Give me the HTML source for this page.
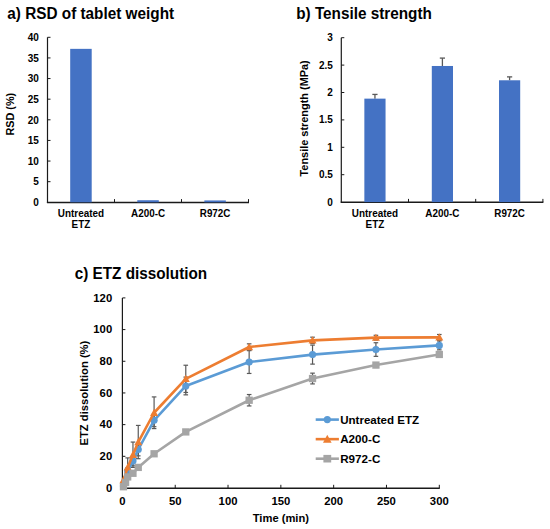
<!DOCTYPE html>
<html><head><meta charset="utf-8"><style>
html,body{margin:0;padding:0;background:#fff;}
svg{display:block;}
text{font-family:"Liberation Sans", sans-serif;font-weight:bold;fill:#000;}
</style></head><body>
<svg width="550" height="529" viewBox="0 0 550 529">
<text x="7.30" y="18.80" font-size="15.8" text-anchor="start" textLength="166.80" lengthAdjust="spacingAndGlyphs" >a) RSD of tablet weight</text>
<text x="296.20" y="18.80" font-size="15.8" text-anchor="start" textLength="135.70" lengthAdjust="spacingAndGlyphs" >b) Tensile strength</text>
<text x="74.70" y="278.90" font-size="15.8" text-anchor="start" textLength="132.50" lengthAdjust="spacingAndGlyphs" >c) ETZ dissolution</text>
<line x1="47.50" y1="37.30" x2="47.50" y2="202.80" stroke="#1a1a1a" stroke-width="1.2" />
<line x1="46.90" y1="202.50" x2="249.00" y2="202.50" stroke="#1a1a1a" stroke-width="1.5" />
<text x="38.80" y="206.00" font-size="10" text-anchor="end" >0</text>
<line x1="47.50" y1="181.68" x2="50.50" y2="181.68" stroke="#1a1a1a" stroke-width="1.0" />
<text x="38.80" y="185.38" font-size="10" text-anchor="end" >5</text>
<line x1="47.50" y1="161.05" x2="50.50" y2="161.05" stroke="#1a1a1a" stroke-width="1.0" />
<text x="38.80" y="164.75" font-size="10" text-anchor="end" >10</text>
<line x1="47.50" y1="140.43" x2="50.50" y2="140.43" stroke="#1a1a1a" stroke-width="1.0" />
<text x="38.80" y="144.12" font-size="10" text-anchor="end" >15</text>
<line x1="47.50" y1="119.80" x2="50.50" y2="119.80" stroke="#1a1a1a" stroke-width="1.0" />
<text x="38.80" y="123.50" font-size="10" text-anchor="end" >20</text>
<line x1="47.50" y1="99.18" x2="50.50" y2="99.18" stroke="#1a1a1a" stroke-width="1.0" />
<text x="38.80" y="102.88" font-size="10" text-anchor="end" >25</text>
<line x1="47.50" y1="78.55" x2="50.50" y2="78.55" stroke="#1a1a1a" stroke-width="1.0" />
<text x="38.80" y="82.25" font-size="10" text-anchor="end" >30</text>
<line x1="47.50" y1="57.93" x2="50.50" y2="57.93" stroke="#1a1a1a" stroke-width="1.0" />
<text x="38.80" y="61.63" font-size="10" text-anchor="end" >35</text>
<line x1="47.50" y1="37.30" x2="50.50" y2="37.30" stroke="#1a1a1a" stroke-width="1.0" />
<text x="38.80" y="41.00" font-size="10" text-anchor="end" >40</text>
<line x1="114.50" y1="202.30" x2="114.50" y2="199.10" stroke="#1a1a1a" stroke-width="1.0" />
<line x1="181.50" y1="202.30" x2="181.50" y2="199.10" stroke="#1a1a1a" stroke-width="1.0" />
<line x1="248.50" y1="202.30" x2="248.50" y2="199.10" stroke="#1a1a1a" stroke-width="1.0" />
<rect x="70.20" y="48.85" width="21.50" height="153.45" fill="#4472C4"/>
<rect x="137.30" y="200.24" width="21.50" height="2.06" fill="#4472C4"/>
<rect x="204.35" y="200.44" width="21.50" height="1.86" fill="#4472C4"/>
<text x="80.95" y="216.80" font-size="10.3" text-anchor="middle" textLength="46.20" lengthAdjust="spacingAndGlyphs" >Untreated</text>
<text x="80.95" y="228.00" font-size="10.3" text-anchor="middle" textLength="18.80" lengthAdjust="spacingAndGlyphs" >ETZ</text>
<text x="148.05" y="216.80" font-size="10.3" text-anchor="middle" textLength="34.10" lengthAdjust="spacingAndGlyphs" >A200-C</text>
<text x="215.10" y="216.80" font-size="10.3" text-anchor="middle" textLength="30.60" lengthAdjust="spacingAndGlyphs" >R972C</text>
<text x="0.00" y="0.00" font-size="11" text-anchor="middle" textLength="42.80" lengthAdjust="spacingAndGlyphs" transform="translate(14.3,114.2) rotate(-90)">RSD (%)</text>
<line x1="341.30" y1="37.70" x2="341.30" y2="202.60" stroke="#1a1a1a" stroke-width="1.2" />
<line x1="340.70" y1="202.30" x2="543.40" y2="202.30" stroke="#1a1a1a" stroke-width="1.5" />
<text x="332.80" y="205.60" font-size="10" text-anchor="end" >0</text>
<line x1="341.30" y1="174.70" x2="344.30" y2="174.70" stroke="#1a1a1a" stroke-width="1.0" />
<text x="332.80" y="178.20" font-size="10" text-anchor="end" >0.5</text>
<line x1="341.30" y1="147.30" x2="344.30" y2="147.30" stroke="#1a1a1a" stroke-width="1.0" />
<text x="332.80" y="150.80" font-size="10" text-anchor="end" >1</text>
<line x1="341.30" y1="119.90" x2="344.30" y2="119.90" stroke="#1a1a1a" stroke-width="1.0" />
<text x="332.80" y="123.40" font-size="10" text-anchor="end" >1.5</text>
<line x1="341.30" y1="92.50" x2="344.30" y2="92.50" stroke="#1a1a1a" stroke-width="1.0" />
<text x="332.80" y="96.00" font-size="10" text-anchor="end" >2</text>
<line x1="341.30" y1="65.10" x2="344.30" y2="65.10" stroke="#1a1a1a" stroke-width="1.0" />
<text x="332.80" y="68.60" font-size="10" text-anchor="end" >2.5</text>
<line x1="341.30" y1="37.70" x2="344.30" y2="37.70" stroke="#1a1a1a" stroke-width="1.0" />
<text x="332.80" y="41.20" font-size="10" text-anchor="end" >3</text>
<line x1="408.50" y1="202.10" x2="408.50" y2="198.90" stroke="#1a1a1a" stroke-width="1.0" />
<line x1="475.70" y1="202.10" x2="475.70" y2="198.90" stroke="#1a1a1a" stroke-width="1.0" />
<line x1="542.90" y1="202.10" x2="542.90" y2="198.90" stroke="#1a1a1a" stroke-width="1.0" />
<line x1="374.95" y1="98.64" x2="374.95" y2="94.42" stroke="#595959" stroke-width="1.3" />
<line x1="372.35" y1="94.42" x2="377.55" y2="94.42" stroke="#595959" stroke-width="1.3" />
<rect x="364.35" y="98.64" width="21.20" height="103.46" fill="#4472C4"/>
<line x1="442.40" y1="65.98" x2="442.40" y2="58.09" stroke="#595959" stroke-width="1.3" />
<line x1="439.80" y1="58.09" x2="445.00" y2="58.09" stroke="#595959" stroke-width="1.3" />
<rect x="431.80" y="65.98" width="21.20" height="136.12" fill="#4472C4"/>
<line x1="509.60" y1="80.28" x2="509.60" y2="76.88" stroke="#595959" stroke-width="1.3" />
<line x1="507.00" y1="76.88" x2="512.20" y2="76.88" stroke="#595959" stroke-width="1.3" />
<rect x="499.00" y="80.28" width="21.20" height="121.82" fill="#4472C4"/>
<text x="374.95" y="216.80" font-size="10.3" text-anchor="middle" textLength="46.20" lengthAdjust="spacingAndGlyphs" >Untreated</text>
<text x="374.95" y="228.00" font-size="10.3" text-anchor="middle" textLength="18.80" lengthAdjust="spacingAndGlyphs" >ETZ</text>
<text x="442.40" y="216.80" font-size="10.3" text-anchor="middle" textLength="34.10" lengthAdjust="spacingAndGlyphs" >A200-C</text>
<text x="509.60" y="216.80" font-size="10.3" text-anchor="middle" textLength="30.60" lengthAdjust="spacingAndGlyphs" >R972C</text>
<text x="0.00" y="0.00" font-size="11" text-anchor="middle" textLength="116.20" lengthAdjust="spacingAndGlyphs" transform="translate(308.1,118.4) rotate(-90)">Tensile strength (MPa)</text>
<line x1="122.40" y1="297.90" x2="122.40" y2="488.50" stroke="#1a1a1a" stroke-width="1.2" />
<line x1="121.80" y1="488.20" x2="439.80" y2="488.20" stroke="#1a1a1a" stroke-width="1.5" />
<text x="112.20" y="491.80" font-size="11.3" text-anchor="end" >0</text>
<line x1="122.40" y1="456.32" x2="125.40" y2="456.32" stroke="#1a1a1a" stroke-width="1.0" />
<text x="112.20" y="460.12" font-size="11.3" text-anchor="end" >20</text>
<line x1="122.40" y1="424.63" x2="125.40" y2="424.63" stroke="#1a1a1a" stroke-width="1.0" />
<text x="112.20" y="428.43" font-size="11.3" text-anchor="end" >40</text>
<line x1="122.40" y1="392.95" x2="125.40" y2="392.95" stroke="#1a1a1a" stroke-width="1.0" />
<text x="112.20" y="396.75" font-size="11.3" text-anchor="end" >60</text>
<line x1="122.40" y1="361.27" x2="125.40" y2="361.27" stroke="#1a1a1a" stroke-width="1.0" />
<text x="112.20" y="365.07" font-size="11.3" text-anchor="end" >80</text>
<line x1="122.40" y1="329.58" x2="125.40" y2="329.58" stroke="#1a1a1a" stroke-width="1.0" />
<text x="112.20" y="333.38" font-size="11.3" text-anchor="end" >100</text>
<line x1="122.40" y1="297.90" x2="125.40" y2="297.90" stroke="#1a1a1a" stroke-width="1.0" />
<text x="112.20" y="301.70" font-size="11.3" text-anchor="end" >120</text>
<text x="122.40" y="505.00" font-size="11.3" text-anchor="middle" >0</text>
<line x1="175.22" y1="488.00" x2="175.22" y2="484.80" stroke="#1a1a1a" stroke-width="1.0" />
<text x="175.22" y="505.00" font-size="11.3" text-anchor="middle" >50</text>
<line x1="228.03" y1="488.00" x2="228.03" y2="484.80" stroke="#1a1a1a" stroke-width="1.0" />
<text x="228.03" y="505.00" font-size="11.3" text-anchor="middle" >100</text>
<line x1="280.85" y1="488.00" x2="280.85" y2="484.80" stroke="#1a1a1a" stroke-width="1.0" />
<text x="280.85" y="505.00" font-size="11.3" text-anchor="middle" >150</text>
<line x1="333.67" y1="488.00" x2="333.67" y2="484.80" stroke="#1a1a1a" stroke-width="1.0" />
<text x="333.67" y="505.00" font-size="11.3" text-anchor="middle" >200</text>
<line x1="386.48" y1="488.00" x2="386.48" y2="484.80" stroke="#1a1a1a" stroke-width="1.0" />
<text x="386.48" y="505.00" font-size="11.3" text-anchor="middle" >250</text>
<line x1="439.30" y1="488.00" x2="439.30" y2="484.80" stroke="#1a1a1a" stroke-width="1.0" />
<text x="439.30" y="505.00" font-size="11.3" text-anchor="middle" >300</text>
<text x="280.85" y="522.00" font-size="11.6" text-anchor="middle" textLength="56.20" lengthAdjust="spacingAndGlyphs" >Time (min)</text>
<text x="0.00" y="0.00" font-size="11.5" text-anchor="middle" textLength="104.90" lengthAdjust="spacingAndGlyphs" transform="translate(87.6,393.1) rotate(-90)">ETZ dissolution (%)</text>
<line x1="125.57" y1="481.66" x2="125.57" y2="483.25" stroke="#595959" stroke-width="1.2" />
<line x1="123.27" y1="481.66" x2="127.87" y2="481.66" stroke="#595959" stroke-width="1.2" />
<line x1="123.27" y1="483.25" x2="127.87" y2="483.25" stroke="#595959" stroke-width="1.2" />
<line x1="127.68" y1="476.12" x2="127.68" y2="477.70" stroke="#595959" stroke-width="1.2" />
<line x1="125.38" y1="476.12" x2="129.98" y2="476.12" stroke="#595959" stroke-width="1.2" />
<line x1="125.38" y1="477.70" x2="129.98" y2="477.70" stroke="#595959" stroke-width="1.2" />
<line x1="132.96" y1="471.68" x2="132.96" y2="474.85" stroke="#595959" stroke-width="1.2" />
<line x1="130.66" y1="471.68" x2="135.26" y2="471.68" stroke="#595959" stroke-width="1.2" />
<line x1="130.66" y1="474.85" x2="135.26" y2="474.85" stroke="#595959" stroke-width="1.2" />
<line x1="138.25" y1="465.82" x2="138.25" y2="468.99" stroke="#595959" stroke-width="1.2" />
<line x1="135.94" y1="465.82" x2="140.55" y2="465.82" stroke="#595959" stroke-width="1.2" />
<line x1="135.94" y1="468.99" x2="140.55" y2="468.99" stroke="#595959" stroke-width="1.2" />
<line x1="154.09" y1="452.20" x2="154.09" y2="455.37" stroke="#595959" stroke-width="1.2" />
<line x1="151.79" y1="452.20" x2="156.39" y2="452.20" stroke="#595959" stroke-width="1.2" />
<line x1="151.79" y1="455.37" x2="156.39" y2="455.37" stroke="#595959" stroke-width="1.2" />
<line x1="185.78" y1="430.34" x2="185.78" y2="433.50" stroke="#595959" stroke-width="1.2" />
<line x1="183.48" y1="430.34" x2="188.08" y2="430.34" stroke="#595959" stroke-width="1.2" />
<line x1="183.48" y1="433.50" x2="188.08" y2="433.50" stroke="#595959" stroke-width="1.2" />
<line x1="249.16" y1="394.53" x2="249.16" y2="405.94" stroke="#595959" stroke-width="1.2" />
<line x1="246.86" y1="394.53" x2="251.46" y2="394.53" stroke="#595959" stroke-width="1.2" />
<line x1="246.86" y1="405.94" x2="251.46" y2="405.94" stroke="#595959" stroke-width="1.2" />
<line x1="312.54" y1="373.15" x2="312.54" y2="383.92" stroke="#595959" stroke-width="1.2" />
<line x1="310.24" y1="373.15" x2="314.84" y2="373.15" stroke="#595959" stroke-width="1.2" />
<line x1="310.24" y1="383.92" x2="314.84" y2="383.92" stroke="#595959" stroke-width="1.2" />
<line x1="375.92" y1="362.69" x2="375.92" y2="367.44" stroke="#595959" stroke-width="1.2" />
<line x1="373.62" y1="362.69" x2="378.22" y2="362.69" stroke="#595959" stroke-width="1.2" />
<line x1="373.62" y1="367.44" x2="378.22" y2="367.44" stroke="#595959" stroke-width="1.2" />
<line x1="439.30" y1="352.08" x2="439.30" y2="356.83" stroke="#595959" stroke-width="1.2" />
<line x1="437.00" y1="352.08" x2="441.60" y2="352.08" stroke="#595959" stroke-width="1.2" />
<line x1="437.00" y1="356.83" x2="441.60" y2="356.83" stroke="#595959" stroke-width="1.2" />
<line x1="127.68" y1="467.72" x2="127.68" y2="474.06" stroke="#595959" stroke-width="1.2" />
<line x1="125.38" y1="467.72" x2="129.98" y2="467.72" stroke="#595959" stroke-width="1.2" />
<line x1="125.38" y1="474.06" x2="129.98" y2="474.06" stroke="#595959" stroke-width="1.2" />
<line x1="132.96" y1="456.32" x2="132.96" y2="465.82" stroke="#595959" stroke-width="1.2" />
<line x1="130.66" y1="456.32" x2="135.26" y2="456.32" stroke="#595959" stroke-width="1.2" />
<line x1="130.66" y1="465.82" x2="135.26" y2="465.82" stroke="#595959" stroke-width="1.2" />
<line x1="138.25" y1="443.17" x2="138.25" y2="455.84" stroke="#595959" stroke-width="1.2" />
<line x1="135.94" y1="443.17" x2="140.55" y2="443.17" stroke="#595959" stroke-width="1.2" />
<line x1="135.94" y1="455.84" x2="140.55" y2="455.84" stroke="#595959" stroke-width="1.2" />
<line x1="154.09" y1="414.02" x2="154.09" y2="426.69" stroke="#595959" stroke-width="1.2" />
<line x1="151.79" y1="414.02" x2="156.39" y2="414.02" stroke="#595959" stroke-width="1.2" />
<line x1="151.79" y1="426.69" x2="156.39" y2="426.69" stroke="#595959" stroke-width="1.2" />
<line x1="185.78" y1="377.11" x2="185.78" y2="394.85" stroke="#595959" stroke-width="1.2" />
<line x1="183.48" y1="377.11" x2="188.08" y2="377.11" stroke="#595959" stroke-width="1.2" />
<line x1="183.48" y1="394.85" x2="188.08" y2="394.85" stroke="#595959" stroke-width="1.2" />
<line x1="249.16" y1="350.65" x2="249.16" y2="373.46" stroke="#595959" stroke-width="1.2" />
<line x1="246.86" y1="350.65" x2="251.46" y2="350.65" stroke="#595959" stroke-width="1.2" />
<line x1="246.86" y1="373.46" x2="251.46" y2="373.46" stroke="#595959" stroke-width="1.2" />
<line x1="312.54" y1="345.11" x2="312.54" y2="364.12" stroke="#595959" stroke-width="1.2" />
<line x1="310.24" y1="345.11" x2="314.84" y2="345.11" stroke="#595959" stroke-width="1.2" />
<line x1="310.24" y1="364.12" x2="314.84" y2="364.12" stroke="#595959" stroke-width="1.2" />
<line x1="375.92" y1="342.73" x2="375.92" y2="356.36" stroke="#595959" stroke-width="1.2" />
<line x1="373.62" y1="342.73" x2="378.22" y2="342.73" stroke="#595959" stroke-width="1.2" />
<line x1="373.62" y1="356.36" x2="378.22" y2="356.36" stroke="#595959" stroke-width="1.2" />
<line x1="439.30" y1="340.99" x2="439.30" y2="349.86" stroke="#595959" stroke-width="1.2" />
<line x1="437.00" y1="340.99" x2="441.60" y2="340.99" stroke="#595959" stroke-width="1.2" />
<line x1="437.00" y1="349.86" x2="441.60" y2="349.86" stroke="#595959" stroke-width="1.2" />
<line x1="127.68" y1="457.90" x2="127.68" y2="476.91" stroke="#595959" stroke-width="1.2" />
<line x1="125.38" y1="457.90" x2="129.98" y2="457.90" stroke="#595959" stroke-width="1.2" />
<line x1="125.38" y1="476.91" x2="129.98" y2="476.91" stroke="#595959" stroke-width="1.2" />
<line x1="132.96" y1="442.06" x2="132.96" y2="467.41" stroke="#595959" stroke-width="1.2" />
<line x1="130.66" y1="442.06" x2="135.26" y2="442.06" stroke="#595959" stroke-width="1.2" />
<line x1="130.66" y1="467.41" x2="135.26" y2="467.41" stroke="#595959" stroke-width="1.2" />
<line x1="138.25" y1="425.43" x2="138.25" y2="458.69" stroke="#595959" stroke-width="1.2" />
<line x1="135.94" y1="425.43" x2="140.55" y2="425.43" stroke="#595959" stroke-width="1.2" />
<line x1="135.94" y1="458.69" x2="140.55" y2="458.69" stroke="#595959" stroke-width="1.2" />
<line x1="154.09" y1="396.91" x2="154.09" y2="428.59" stroke="#595959" stroke-width="1.2" />
<line x1="151.79" y1="396.91" x2="156.39" y2="396.91" stroke="#595959" stroke-width="1.2" />
<line x1="151.79" y1="428.59" x2="156.39" y2="428.59" stroke="#595959" stroke-width="1.2" />
<line x1="185.78" y1="365.23" x2="185.78" y2="392.47" stroke="#595959" stroke-width="1.2" />
<line x1="183.48" y1="365.23" x2="188.08" y2="365.23" stroke="#595959" stroke-width="1.2" />
<line x1="183.48" y1="392.47" x2="188.08" y2="392.47" stroke="#595959" stroke-width="1.2" />
<line x1="249.16" y1="343.84" x2="249.16" y2="350.18" stroke="#595959" stroke-width="1.2" />
<line x1="246.86" y1="343.84" x2="251.46" y2="343.84" stroke="#595959" stroke-width="1.2" />
<line x1="246.86" y1="350.18" x2="251.46" y2="350.18" stroke="#595959" stroke-width="1.2" />
<line x1="312.54" y1="337.19" x2="312.54" y2="343.52" stroke="#595959" stroke-width="1.2" />
<line x1="310.24" y1="337.19" x2="314.84" y2="337.19" stroke="#595959" stroke-width="1.2" />
<line x1="310.24" y1="343.52" x2="314.84" y2="343.52" stroke="#595959" stroke-width="1.2" />
<line x1="375.92" y1="335.29" x2="375.92" y2="340.04" stroke="#595959" stroke-width="1.2" />
<line x1="373.62" y1="335.29" x2="378.22" y2="335.29" stroke="#595959" stroke-width="1.2" />
<line x1="373.62" y1="340.04" x2="378.22" y2="340.04" stroke="#595959" stroke-width="1.2" />
<line x1="439.30" y1="334.49" x2="439.30" y2="340.20" stroke="#595959" stroke-width="1.2" />
<line x1="437.00" y1="334.49" x2="441.60" y2="334.49" stroke="#595959" stroke-width="1.2" />
<line x1="437.00" y1="340.20" x2="441.60" y2="340.20" stroke="#595959" stroke-width="1.2" />
<polyline points="123.46,486.10 127.68,470.89 132.96,461.07 138.25,449.50 154.09,420.36 185.78,385.98 249.16,362.06 312.54,354.61 375.92,349.54 439.30,345.42" fill="none" stroke="#5B9BD5" stroke-width="2.6" stroke-linejoin="round"/>
<circle cx="123.46" cy="486.10" r="3.6" fill="#5B9BD5"/>
<circle cx="127.68" cy="470.89" r="3.6" fill="#5B9BD5"/>
<circle cx="132.96" cy="461.07" r="3.6" fill="#5B9BD5"/>
<circle cx="138.25" cy="449.50" r="3.6" fill="#5B9BD5"/>
<circle cx="154.09" cy="420.36" r="3.6" fill="#5B9BD5"/>
<circle cx="185.78" cy="385.98" r="3.6" fill="#5B9BD5"/>
<circle cx="249.16" cy="362.06" r="3.6" fill="#5B9BD5"/>
<circle cx="312.54" cy="354.61" r="3.6" fill="#5B9BD5"/>
<circle cx="375.92" cy="349.54" r="3.6" fill="#5B9BD5"/>
<circle cx="439.30" cy="345.42" r="3.6" fill="#5B9BD5"/>
<polyline points="123.46,480.08 127.68,467.41 132.96,454.73 138.25,442.06 154.09,412.75 185.78,378.85 249.16,347.01 312.54,340.36 375.92,337.66 439.30,337.35" fill="none" stroke="#ED7D31" stroke-width="2.6" stroke-linejoin="round"/>
<path d="M123.46,476.08 L127.46,483.28 L119.46,483.28Z" fill="#ED7D31"/>
<path d="M127.68,463.41 L131.68,470.61 L123.68,470.61Z" fill="#ED7D31"/>
<path d="M132.96,450.73 L136.96,457.93 L128.96,457.93Z" fill="#ED7D31"/>
<path d="M138.25,438.06 L142.25,445.26 L134.25,445.26Z" fill="#ED7D31"/>
<path d="M154.09,408.75 L158.09,415.95 L150.09,415.95Z" fill="#ED7D31"/>
<path d="M185.78,374.85 L189.78,382.05 L181.78,382.05Z" fill="#ED7D31"/>
<path d="M249.16,343.01 L253.16,350.21 L245.16,350.21Z" fill="#ED7D31"/>
<path d="M312.54,336.36 L316.54,343.56 L308.54,343.56Z" fill="#ED7D31"/>
<path d="M375.92,333.66 L379.92,340.86 L371.92,340.86Z" fill="#ED7D31"/>
<path d="M439.30,333.35 L443.30,340.55 L435.30,340.55Z" fill="#ED7D31"/>
<polyline points="123.46,486.73 125.57,482.46 127.68,476.91 132.96,473.27 138.25,467.41 154.09,453.78 185.78,431.92 249.16,400.24 312.54,378.53 375.92,365.07 439.30,354.45" fill="none" stroke="#A5A5A5" stroke-width="2.6" stroke-linejoin="round"/>
<rect x="119.81" y="483.08" width="7.3" height="7.3" fill="#A5A5A5"/>
<rect x="121.92" y="478.81" width="7.3" height="7.3" fill="#A5A5A5"/>
<rect x="124.03" y="473.26" width="7.3" height="7.3" fill="#A5A5A5"/>
<rect x="129.31" y="469.62" width="7.3" height="7.3" fill="#A5A5A5"/>
<rect x="134.59" y="463.76" width="7.3" height="7.3" fill="#A5A5A5"/>
<rect x="150.44" y="450.13" width="7.3" height="7.3" fill="#A5A5A5"/>
<rect x="182.13" y="428.27" width="7.3" height="7.3" fill="#A5A5A5"/>
<rect x="245.51" y="396.59" width="7.3" height="7.3" fill="#A5A5A5"/>
<rect x="308.89" y="374.88" width="7.3" height="7.3" fill="#A5A5A5"/>
<rect x="372.27" y="361.42" width="7.3" height="7.3" fill="#A5A5A5"/>
<rect x="435.65" y="350.80" width="7.3" height="7.3" fill="#A5A5A5"/>
<line x1="315.70" y1="419.60" x2="338.90" y2="419.60" stroke="#5B9BD5" stroke-width="2.6" />
<circle cx="327.30" cy="419.60" r="3.6" fill="#5B9BD5"/>
<text x="340.20" y="423.60" font-size="11.7" text-anchor="start" textLength="78.90" lengthAdjust="spacingAndGlyphs" >Untreated ETZ</text>
<line x1="315.70" y1="439.15" x2="338.90" y2="439.15" stroke="#ED7D31" stroke-width="2.6" />
<path d="M327.30,434.75 L331.60,442.65 L323.00,442.65Z" fill="#ED7D31"/>
<text x="340.20" y="443.15" font-size="11.7" text-anchor="start" textLength="40.20" lengthAdjust="spacingAndGlyphs" >A200-C</text>
<line x1="315.70" y1="458.70" x2="338.90" y2="458.70" stroke="#A5A5A5" stroke-width="2.6" />
<rect x="323.40" y="454.90" width="7.8" height="7.6" fill="#A5A5A5"/>
<text x="340.20" y="462.70" font-size="11.7" text-anchor="start" textLength="40.20" lengthAdjust="spacingAndGlyphs" >R972-C</text>
</svg>
</body></html>
